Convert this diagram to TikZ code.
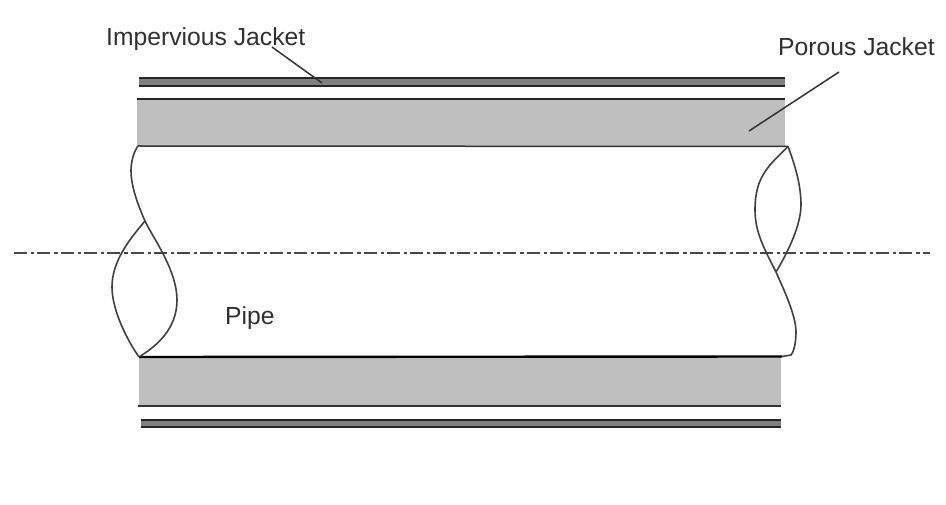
\documentclass[tikz,border=0pt]{standalone}
\usepackage{fontspec}
\setmainfont{Liberation Sans}
\definecolor{lbl}{HTML}{303030}
\tikzset{
  x=1pt,y=-1pt,
  lbltext/.style={font=\fontsize{24.7}{26}\selectfont,text=lbl,inner sep=0pt,anchor=base west},
  edge/.style={draw=black!85,line width=2pt},
  thin edge/.style={draw=black!80,line width=1.5pt},
  wavy/.style={draw=black!75,line width=1.6pt,line join=round},
  centre/.style={draw=black!72,line width=1.8pt,dash pattern=on 13pt off 4pt on 3.3pt off 3pt},
}
\begin{document}
\begin{tikzpicture}
\useasboundingbox (0,0) rectangle (946,505);
\fill[white] (0,0) rectangle (946,505);
% jackets
\fill[fill=black!50] (138.5,78.5) rectangle (785,86.5);
\draw[edge] (138.5,78.5) -- (785,78.5);
\draw[edge] (138.5,86.5) -- (785,86.5);
\fill[fill=black!25] (136.5,99.5) rectangle (785,146);
\draw[edge] (136.5,99.5) -- (785,99.5);
\fill[fill=black!25] (138.5,357) rectangle (781,406);
\draw[thin edge] (138,406) -- (781,406);
\fill[fill=black!50] (141,419.5) rectangle (781,427);
\draw[edge] (141,419.5) -- (781,419.5);
\draw[edge] (141,427) -- (781,427);
% pipe edges
\coordinate (tl) at (138,146);
\coordinate (tr) at (788,146.5);
\coordinate (bl) at (139,357);
\coordinate (br) at (782,356.5);
\draw[thin edge] (tl) -- (tr);
\draw[draw=black,line width=2.4pt] (bl) -- (br);
% centre line
\coordinate (cl1) at (14,253);
\coordinate (cl2) at (930,253);
\draw[centre] (cl1) -- (cl2);
% left break
\coordinate (lx) at (145,221);
\draw[wavy] (tl) .. controls (133,153) and (131,163) .. (131,171)
  .. controls (131,185) and (137,203) .. (lx)
  .. controls (153,238) and (177,270) .. (177,300)
  .. controls (177,330) and (155,347) .. (bl);
\draw[wavy] (lx) .. controls (128,241) and (112,262) .. (112,287)
  .. controls (112,310) and (127,340) .. (bl);
% right break
\coordinate (rx) at (776,272);
\draw[wavy] (tr) .. controls (770,165) and (755,175) .. (755,210)
  .. controls (755,233) and (765,250) .. (rx)
  .. controls (783,288) and (796,315) .. (796,332)
  .. controls (796,345) and (793,353) .. (791,355) -- (br);
\draw[wavy] (tr) .. controls (795,165) and (801,185) .. (801,205)
  .. controls (801,225) and (788,252) .. (rx);
% labels and leaders
\node[lbltext] (imp) at (106,46) {Impervious Jacket};
\node[lbltext] (por) at (778,56) {Porous Jacket};
\node[lbltext] (pipe) at (225,325) {Pipe};
\coordinate (a1) at (272,47);
\coordinate (a2) at (322,83);
\coordinate (b1) at (839,72);
\coordinate (b2) at (749,131);
\draw[thin edge] (a1) -- (a2);
\draw[thin edge] (b1) -- (b2);
\end{tikzpicture}
\end{document}
